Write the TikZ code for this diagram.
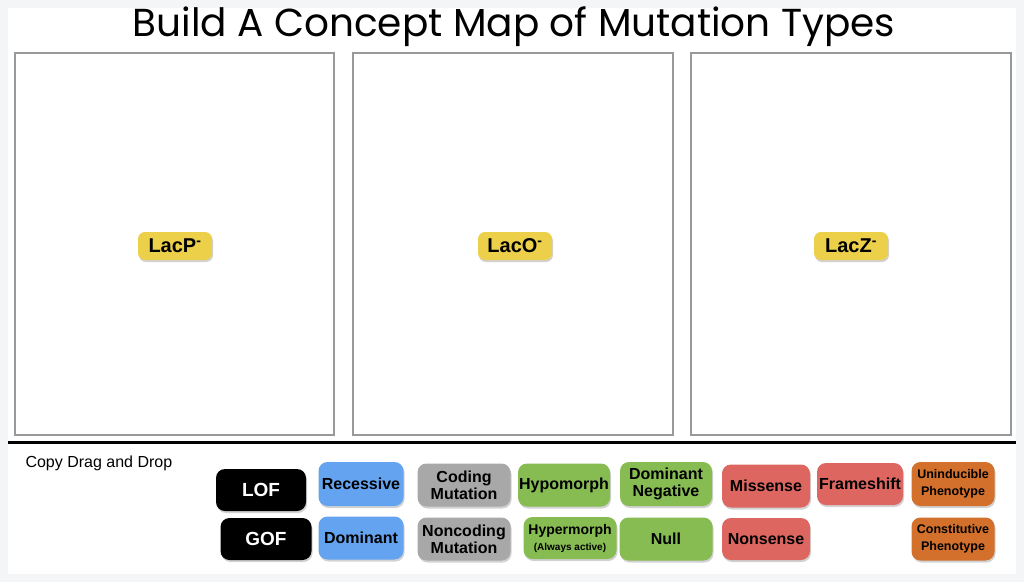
\documentclass[tikz,border=0pt]{standalone}
\usepackage{fontspec}
\setmainfont{Liberation Sans}
\newfontfamily\titlefont{Poppins}
\usetikzlibrary{shadows}
\definecolor{bgc}{HTML}{F4F5F7}
\definecolor{bluec}{HTML}{64A3F0}
\definecolor{grayc}{HTML}{A8A8A8}
\definecolor{greenc}{HTML}{87BC53}
\definecolor{redc}{HTML}{DE6660}
\definecolor{orangec}{HTML}{D2702C}
\definecolor{yellowc}{HTML}{ECD04A}
\tikzset{
 chip/.style={rounded corners=9pt, inner sep=0pt, align=center, font=\bfseries\fontsize{16}{17}\selectfont,
   drop shadow={shadow xshift=1pt,shadow yshift=-2pt,opacity=0.35}},
 panel/.style={draw=gray!80, line width=2pt, fill=white},
}
\newcommand{\chipat}[7]{\node[chip,fill=#6,text=#7,minimum width=#3pt,minimum height=#4pt] (#1) at (#2) {#5};}
\begin{document}
\begin{tikzpicture}[x=1pt,y=-1pt]
\fill[bgc] (0,0) rectangle (1024,582);
\useasboundingbox (0,0) rectangle (1024,582);
\fill[white] (8,8) rectangle (1016,574);
\node[font=\titlefont\fontsize{39}{42}\selectfont] (title) at (514,27) {Build A Concept Map of Mutation Types};
\draw[panel] (15,53) rectangle (334,435);
\draw[panel] (353,53) rectangle (673,435);
\draw[panel] (691,53) rectangle (1011,435);
\draw[line width=3pt] (8,442) -- (1016,442);
\node[anchor=west, font=\fontsize{16}{17}\selectfont] (cdd) at (22,463) {Copy Drag and Drop};
\tikzset{lac/.style={chip, fill=yellowc, minimum width=74pt, minimum height=28pt, rounded corners=7pt, font=\bfseries\fontsize{20}{21}\selectfont}}
\node[lac] (lacp) at (175,246) {LacP\textsuperscript{-}};
\node[lac] (laco) at (515,246) {LacO\textsuperscript{-}};
\node[lac] (lacz) at (851,246) {LacZ\textsuperscript{-}};
\chipat{lof}{261,490}{90}{42}{\fontsize{19}{20}\selectfont LOF}{black}{white}
\chipat{gof}{266,539}{91}{42}{\fontsize{19}{20}\selectfont GOF}{black}{white}
\chipat{rec}{361,484}{85}{44}{Recessive}{bluec}{black}
\chipat{dom}{361,538}{85}{43}{Dominant}{bluec}{black}
\chipat{cod}{464,485}{93}{43}{Coding\\Mutation}{grayc}{black}
\chipat{noncod}{464,539}{93}{43}{Noncoding\\Mutation}{grayc}{black}
\chipat{hypo}{564,485}{92}{43}{Hypomorph}{greenc}{black}
\chipat{hyper}{570,538}{93}{42}{\fontsize{14}{15}\selectfont Hypermorph\\[-1pt]{\fontsize{10}{11}\selectfont(Always active)}}{greenc}{black}
\chipat{domneg}{666,484}{92}{44}{Dominant\\Negative}{greenc}{black}
\chipat{null}{666,539}{93}{43}{Null}{greenc}{black}
\chipat{mis}{766,486}{88}{43}{Missense}{redc}{black}
\chipat{non}{766,539}{88}{42}{Nonsense}{redc}{black}
\chipat{frame}{860,484}{86}{42}{Frameshift}{redc}{black}
\chipat{unind}{953,484}{83}{44}{\fontsize{12.5}{14}\selectfont Uninducible\\\fontsize{12.5}{14}\selectfont Phenotype}{orangec}{black}
\chipat{const}{953,539}{83}{43}{\fontsize{12.5}{14}\selectfont Constitutive\\\fontsize{12.5}{14}\selectfont Phenotype}{orangec}{black}
\end{tikzpicture}
\end{document}
